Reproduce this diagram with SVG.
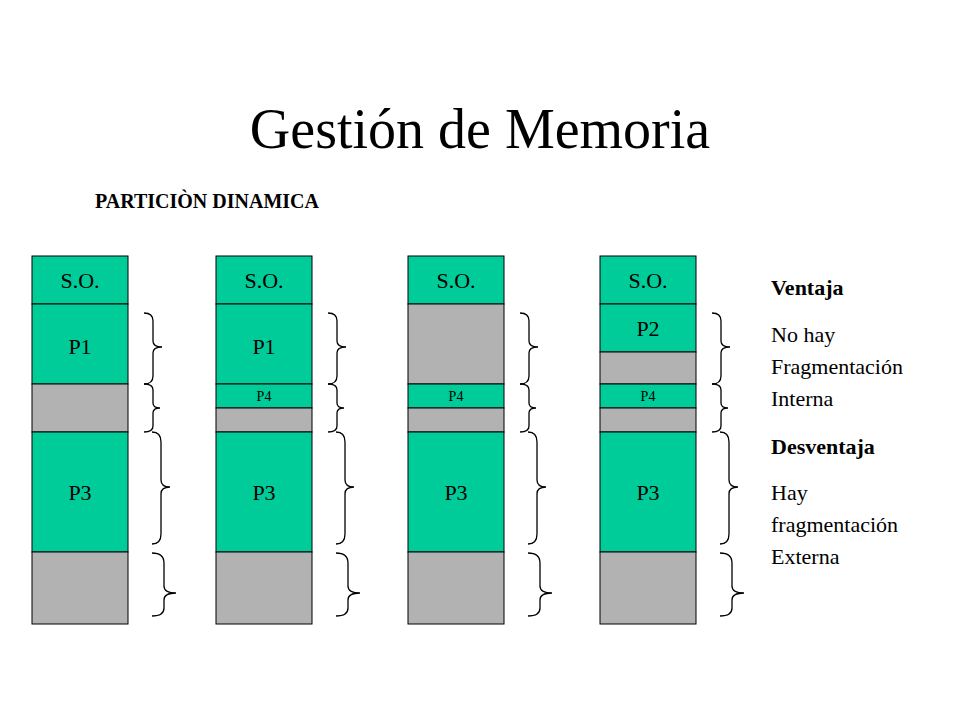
<svg xmlns="http://www.w3.org/2000/svg" width="960" height="720" viewBox="0 0 960 720">
<style>
text{font-family:"Liberation Serif","Times New Roman",serif;fill:#000}
.g{fill:#00CC99;stroke:#000;stroke-width:1}
.f{fill:#B2B2B2;stroke:#000;stroke-width:1}
.l{font-size:22px;text-anchor:middle}
.s{font-size:14px;text-anchor:middle}
.r{font-size:22px}
.b{fill:none;stroke:#000;stroke-width:1.3}
</style>
<rect width="960" height="720" fill="#fff"/>
<text x="480" y="148" font-size="56" text-anchor="middle">Gestión de Memoria</text>
<text x="95" y="208" font-size="20" font-weight="bold">PARTICIÒN DINAMICA</text>
<g id="m1">
<rect class="g" x="32" y="256" width="96" height="48"/><text class="l" x="80" y="288">S.O.</text>
<rect class="g" x="32" y="304" width="96" height="80"/><text class="l" x="80" y="354">P1</text>
<rect class="f" x="32" y="384" width="96" height="48"/>
<rect class="g" x="32" y="432" width="96" height="120"/><text class="l" x="80" y="500">P3</text>
<rect class="f" x="32" y="552" width="96" height="72"/>
</g>
<g id="m2">
<rect class="g" x="216" y="256" width="96" height="48"/><text class="l" x="264" y="288">S.O.</text>
<rect class="g" x="216" y="304" width="96" height="80"/><text class="l" x="264" y="354">P1</text>
<rect class="g" x="216" y="384" width="96" height="24"/><text class="s" x="264" y="401">P4</text>
<rect class="f" x="216" y="408" width="96" height="24"/>
<rect class="g" x="216" y="432" width="96" height="120"/><text class="l" x="264" y="500">P3</text>
<rect class="f" x="216" y="552" width="96" height="72"/>
</g>
<g id="m3">
<rect class="g" x="408" y="256" width="96" height="48"/><text class="l" x="456" y="288">S.O.</text>
<rect class="f" x="408" y="304" width="96" height="80"/>
<rect class="g" x="408" y="384" width="96" height="24"/><text class="s" x="456" y="401">P4</text>
<rect class="f" x="408" y="408" width="96" height="24"/>
<rect class="g" x="408" y="432" width="96" height="120"/><text class="l" x="456" y="500">P3</text>
<rect class="f" x="408" y="552" width="96" height="72"/>
</g>
<g id="m4">
<rect class="g" x="600" y="256" width="96" height="48"/><text class="l" x="648" y="288">S.O.</text>
<rect class="g" x="600" y="304" width="96" height="48"/><text class="l" x="648" y="336">P2</text>
<rect class="f" x="600" y="352" width="96" height="32"/>
<rect class="g" x="600" y="384" width="96" height="24"/><text class="s" x="648" y="401">P4</text>
<rect class="f" x="600" y="408" width="96" height="24"/>
<rect class="g" x="600" y="432" width="96" height="120"/><text class="l" x="648" y="500">P3</text>
<rect class="f" x="600" y="552" width="96" height="72"/>
</g>
<defs>
<g id="br">
<path class="b" d="M144 313 Q153 313 153 321 L153 341 Q153 347 162 347 Q153 347 153 353 L153 376 Q153 384 144 384"/>
<path class="b" d="M144 384 Q153 384 153 390 L153 403 Q153 408 160 408 Q153 408 153 413 L153 426 Q153 432 144 432"/>
<path class="b" d="M152 432 Q161 432 161 442 L161 480 Q161 487 170 487 Q161 487 161 494 L161 534 Q161 544 152 544"/>
<path class="b" d="M152 553 Q164 553 164 563 L164 586 Q164 593 176 593 Q164 593 164 600 L164 608 Q164 616 152 616"/>
</g>
</defs>
<g id="connectors">
<use href="#br"/>
<use href="#br" transform="translate(184,0)"/>
<use href="#br" transform="translate(376,0)"/>
<use href="#br" transform="translate(568,0)"/>
</g>
<g id="notes">
<text class="r" x="771" y="295" font-weight="bold" font-size="20">Ventaja</text>
<text class="r" x="771" y="342">No hay</text>
<text class="r" x="771" y="374">Fragmentación</text>
<text class="r" x="771" y="406">Interna</text>
<text class="r" x="771" y="454" font-weight="bold" font-size="20">Desventaja</text>
<text class="r" x="771" y="500">Hay</text>
<text class="r" x="771" y="532">fragmentación</text>
<text class="r" x="771" y="564">Externa</text>
</g>
</svg>
